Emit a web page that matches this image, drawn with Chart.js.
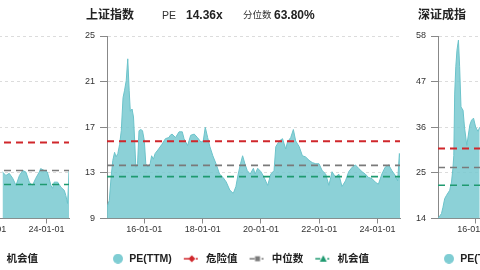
<!DOCTYPE html>
<html>
<head>
<meta charset="utf-8">
<script src="https://cdn.jsdelivr.net/npm/chart.js@4.4.1/dist/chart.umd.min.js"></script>
<style>
body { margin: 0; width: 480px; height: 270px; overflow: hidden; background: #fff; position: relative;
       font-family: "Liberation Sans", "Noto Sans CJK SC", sans-serif; color: #222; }
.panel { position: absolute; top: 0; width: 331px; height: 274px; }
.panel canvas { position: absolute; left: 0; top: 0; }
.hd { position: absolute; top: 8px; white-space: nowrap; line-height: 14px; }
.t { font-size: 12px; font-weight: bold; }
.k { font-size: 10.5px; color: #333; }
.k2 { font-size: 9.5px; color: #333; }
.v { font-size: 12px; font-weight: bold; }
</style>
</head>
<body>
<div class="panel" style="left:-256px"><canvas id="cLeft" width="331" height="274"></canvas></div>
<div class="panel" style="left:75px">
  <canvas id="cSh" width="331" height="274"></canvas>
  <span class="hd t" style="left:11px">上证指数</span>
  <span class="hd k" style="left:87px">PE</span>
  <span class="hd v" style="left:111px">14.36x</span>
  <span class="hd k2" style="left:168px">分位数</span>
  <span class="hd v" style="left:199px">63.80%</span>
</div>
<div class="panel" style="left:406px">
  <canvas id="cSz" width="331" height="274"></canvas>
  <span class="hd t" style="left:12px">深证成指</span>
</div>
<script>
// shared x range and ticks
const xStart = '2014-09-20';
const xEnd = '2024-10-08';
const xTickDates = ['2016-01-01', '2018-01-01', '2020-01-01', '2022-01-01', '2024-01-01'];
const xTickLabels = ['16-01-01', '18-01-01', '20-01-01', '22-01-01', '24-01-01'];
const legendNames = ['PE(TTM)', '危险值', '中位数', '机会值'];

// 上证指数 PE(TTM)
const shDates = ['2014-09-20','2014-10-19','2014-11-10','2014-12-02','2014-12-24','2015-01-12','2015-02-03','2015-02-25',
  '2015-03-18','2015-04-09','2015-04-27','2015-05-19','2015-06-07','2015-06-25','2015-07-09','2015-07-31','2015-08-18',
  '2015-09-02','2015-09-16','2015-10-08','2015-10-26','2015-11-17','2015-12-09','2016-01-01','2016-01-19','2016-02-14',
  '2016-03-14','2016-04-01','2016-04-23','2016-05-15','2016-06-28','2016-08-08','2016-09-21','2016-11-03','2016-11-21',
  '2016-12-13','2017-01-26','2017-03-11','2017-04-20','2017-05-12','2017-06-25','2017-08-04','2017-09-17','2017-10-27',
  '2017-12-10','2018-01-08','2018-02-02','2018-03-04','2018-04-01','2018-05-08','2018-06-17','2018-07-31','2018-09-13',
  '2018-10-23','2018-12-06','2019-01-19','2019-02-21','2019-03-22','2019-04-20','2019-05-16','2019-06-14','2019-07-13',
  '2019-08-19','2019-09-28','2019-10-20','2019-11-21','2020-01-01','2020-02-10','2020-03-25','2020-05-04','2020-06-13',
  '2020-07-05','2020-08-18','2020-09-27','2020-11-06','2020-11-28','2021-01-08','2021-02-10','2021-03-11','2021-04-24',
  '2021-06-03','2021-07-13','2021-08-26','2021-10-05','2021-11-18','2021-12-28','2022-02-06','2022-03-22','2022-05-01',
  '2022-06-10','2022-07-24','2022-09-02','2022-10-12','2022-11-25','2023-01-04','2023-02-17','2023-03-29','2023-05-08',
  '2023-06-21','2023-07-31','2023-09-09','2023-10-23','2023-12-02','2024-01-11','2024-02-24','2024-04-05','2024-05-19',
  '2024-06-28','2024-08-07','2024-09-09','2024-09-30','2024-10-08'];
const shPE = [10.0,10.6,12.6,14.1,14.8,14.4,14.7,15.5,
  16.7,19.6,20.2,21.1,23.0,20.2,18.4,18.6,17.9,
  15.8,13.5,13.8,16.7,16.8,16.7,15.8,13.8,13.5,
  13.8,14.5,14.2,14.7,15.1,15.5,16.0,16.1,16.3,
  16.4,16.1,16.6,16.6,16.0,15.4,16.3,16.4,16.1,
  15.7,15.8,17.0,16.1,15.3,14.5,13.8,12.9,12.6,
  12.2,11.5,11.2,11.8,12.9,13.8,14.5,13.8,13.2,
  12.9,13.4,12.9,13.4,13.1,12.6,11.9,12.9,13.2,
  15.3,15.8,16.0,15.1,15.7,16.1,16.8,15.8,15.3,
  14.5,14.4,14.1,13.9,13.8,13.8,13.2,12.9,11.9,
  13.1,12.6,12.9,11.8,12.3,13.1,13.5,13.7,13.4,
  13.1,12.9,12.6,12.5,12.2,12.0,12.9,13.5,13.7,
  13.2,12.8,12.3,14.7,14.36];
const shTicks = [9, 13, 17, 21, 25];
const shLevels = [15.77, 13.66, 12.67];   // 危险值, 中位数, 机会值

// 深证成指 PE(TTM), only the start is in view
const szDates = ['2014-09-20','2014-10-01','2014-11-03','2014-11-21','2014-12-13','2015-01-05','2015-02-14','2015-03-08',
  '2015-03-26','2015-04-06','2015-04-17','2015-05-01','2015-05-16','2015-06-03','2015-06-18','2015-07-05','2015-07-31',
  '2015-08-18','2015-09-16','2015-10-23','2015-11-14','2015-12-09','2016-01-05','2016-02-03','2016-02-25'];
const szPE = [14.2,14.3,15.2,16.7,18.8,19.6,20.8,22.8,
  26.1,29.2,44.0,50.6,54.6,57.0,50.6,40.9,40.1,
  36.0,31.6,36.5,37.7,38.2,36.0,35.0,36.0];
const szTicks = [14, 25, 36, 47, 58];
const szLevels = [30.9, 26.3, 22.0];

// left panel, only the end is in view
const lfDates = ['2022-06-28','2022-08-10','2022-09-20','2022-11-03','2022-12-14','2023-01-26','2023-03-08','2023-04-17',
  '2023-05-30','2023-07-09','2023-08-18','2023-10-01','2023-10-19','2023-12-02','2024-01-11','2024-02-24','2024-03-17',
  '2024-04-05','2024-05-19','2024-06-28','2024-08-10','2024-08-29','2024-09-20','2024-10-01','2024-10-08'];
const lfPE = [11.05,10.83,10.97,10.64,10.18,10.83,11.16,11.05,
  10.39,10.18,10.64,11.05,11.28,11.16,11.05,10.18,9.98,
  10.39,10.39,10.06,9.85,9.52,8.99,10.18,11.16];
const lfTicks = [8, 11, 14, 17, 20];
const lfLevels = [13.0, 11.16, 10.24];

const FONT = '"Liberation Sans", "Noto Sans CJK SC", sans-serif';
const TEAL = '#7fcdd3';
const levelColors = ['#d0262b', '#7a7a7a', '#1f9a70'];
const levelShapes = ['diamond', 'square', 'triangle'];

function legendMark(color, shape) {
  const c = document.createElement('canvas');
  c.width = 18; c.height = 10;
  const g = c.getContext('2d');
  g.fillStyle = color;
  if (shape === 'circle') {
    g.beginPath(); g.arc(12, 5, 5, 0, Math.PI * 2); g.fill();
    return c;
  }
  g.strokeStyle = color; g.lineWidth = 1.5;
  g.beginPath(); g.moveTo(1, 5); g.lineTo(6, 5); g.stroke();
  g.beginPath(); g.moveTo(13, 5); g.lineTo(15, 5); g.stroke();
  g.beginPath();
  if (shape === 'diamond') { g.moveTo(9, 1.5); g.lineTo(12.5, 5); g.lineTo(9, 8.5); g.lineTo(5.5, 5); }
  else if (shape === 'square') { g.rect(6.5, 2.5, 5, 5); }
  else { g.moveTo(9, 1.5); g.lineTo(12.5, 8); g.lineTo(5.5, 8); }
  g.closePath(); g.fill();
  return c;
}

function makeChart(id, dates, pe, ticks, levels) {
  const x0 = Date.parse(xStart), x1 = Date.parse(xEnd);
  const datasets = [{
    label: legendNames[0],
    data: dates.map((d, i) => ({ x: Date.parse(d), y: pe[i] })),
    borderColor: '#6cc3ca',
    backgroundColor: 'rgba(120,201,208,0.85)',
    borderWidth: 1,
    fill: 'start',
    pointRadius: 0,
    tension: 0,
    pointStyle: legendMark(TEAL, 'circle'),
    order: 10
  }];
  levels.forEach((v, i) => {
    datasets.push({
      label: legendNames[i + 1],
      data: [{ x: x0, y: v }, { x: x1, y: v }],
      borderColor: levelColors[i],
      borderWidth: i === 0 ? 2 : 1.6,
      borderDash: [7, 5],
      fill: false,
      pointRadius: 0,
      pointStyle: legendMark(levelColors[i], levelShapes[i]),
      order: i
    });
  });

  new Chart(document.getElementById(id), {
    type: 'line',
    data: { datasets },
    options: {
      responsive: false,
      animation: false,
      events: [],
      layout: { padding: { top: 36, right: 6, left: 0, bottom: 0 } },
      plugins: {
        tooltip: { enabled: false },
        legend: {
          position: 'bottom',
          labels: {
            usePointStyle: true,
            pointStyleWidth: 18,
            padding: 11,
            color: '#222',
            font: { size: 10.5, weight: 'bold', family: FONT },
            sort: (a, b) => a.datasetIndex - b.datasetIndex
          }
        }
      },
      scales: {
        x: {
          type: 'linear',
          min: x0,
          max: x1,
          afterBuildTicks: s => { s.ticks = xTickDates.map(d => ({ value: Date.parse(d) })); },
          afterFit: s => { s.height = 24; },
          ticks: {
            autoSkip: false, maxRotation: 0, padding: 1, color: '#333',
            font: { size: 9, family: FONT },
            callback: (v, i) => xTickLabels[i]
          },
          grid: { drawOnChartArea: false, drawTicks: true, tickLength: 5, tickColor: '#888' },
          border: { color: '#888' }
        },
        y: {
          min: ticks[0],
          max: ticks[ticks.length - 1],
          afterBuildTicks: s => { s.ticks = ticks.map(v => ({ value: v })); },
          afterFit: s => { s.width = 32; },
          ticks: { padding: 5, color: '#333', font: { size: 9, family: FONT } },
          grid: { color: '#dcdcdc', tickLength: 7, tickColor: '#888', tickBorderDash: [] },
          border: { color: '#888', dash: [3, 3] }
        }
      }
    }
  });
}

makeChart('cLeft', lfDates, lfPE, lfTicks, lfLevels);
makeChart('cSh', shDates, shPE, shTicks, shLevels);
makeChart('cSz', szDates, szPE, szTicks, szLevels);
</script>
</body>
</html>
